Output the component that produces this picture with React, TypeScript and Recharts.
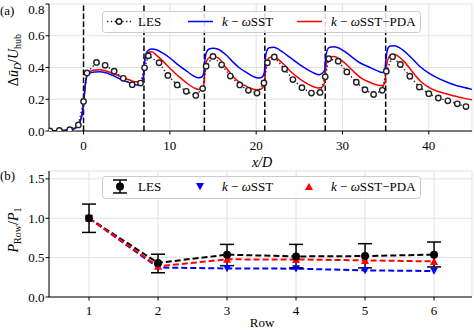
import React from 'react';
import { LineChart, Line, XAxis, YAxis, CartesianGrid, ReferenceLine, ErrorBar } from 'recharts';

const FONT = '"Liberation Serif", "Times New Roman", serif';

// ---------- (a) wake velocity deficit ----------
const lesX = [-3.9, -2.8, -1.6, -0.6, 0.0, 0.4, 1.5, 2.5, 3.55, 4.6, 5.64, 6.6, 7.07, 7.5, 8.75, 9.77, 10.85, 11.9, 13.0, 13.8, 14.2, 15.0, 16.0, 17.0, 18.1, 19.1, 20.1, 20.9, 21.3, 22.1, 23.3, 24.25, 25.3, 26.4, 27.4, 28.0, 28.4, 29.5, 30.5, 31.6, 32.6, 33.6, 34.6, 35.07, 35.8, 36.7, 37.8, 38.9, 40.0, 41.1, 42.2, 43.3, 44.3];
const lesY = [0.0, 0.003, 0.008, 0.038, 0.186, 0.366, 0.432, 0.414, 0.377, 0.332, 0.292, 0.302, 0.398, 0.474, 0.43, 0.35, 0.29, 0.25, 0.224, 0.267, 0.408, 0.47, 0.417, 0.346, 0.29, 0.256, 0.239, 0.303, 0.43, 0.466, 0.39, 0.324, 0.273, 0.239, 0.243, 0.341, 0.455, 0.44, 0.372, 0.307, 0.26, 0.23, 0.256, 0.377, 0.468, 0.419, 0.345, 0.277, 0.235, 0.208, 0.19, 0.171, 0.154];

const sstX = [-4, -3, -2, -1.2, -0.7, -0.4, -0.15, 0, 0.15, 0.3, 0.5, 0.8, 1.3, 1.9, 2.5, 3.2, 4, 4.8, 5.5, 6.1, 6.5, 6.8, 6.95, 7.05, 7.2, 7.5, 7.9, 8.5, 9.2, 10, 11, 12, 12.8, 13.3, 13.7, 13.95, 14.05, 14.2, 14.5, 15, 15.6, 16.5, 17.3, 18, 19, 19.8, 20.3, 20.7, 20.95, 21.05, 21.2, 21.5, 22, 23, 24, 25, 26, 26.8, 27.3, 27.7, 27.95, 28.05, 28.2, 28.5, 29, 30, 31, 32, 33, 34, 34.6, 34.9, 35.05, 35.2, 35.5, 36, 37, 38, 39, 40, 41, 42, 43, 44, 45];
const sstY = [0.0, 0.001, 0.004, 0.012, 0.03, 0.06, 0.11, 0.17, 0.26, 0.33, 0.355, 0.366, 0.372, 0.374, 0.368, 0.354, 0.334, 0.314, 0.3, 0.29, 0.289, 0.303, 0.34, 0.43, 0.48, 0.508, 0.516, 0.51, 0.49, 0.46, 0.415, 0.375, 0.345, 0.335, 0.34, 0.37, 0.44, 0.49, 0.515, 0.522, 0.515, 0.48, 0.435, 0.4, 0.365, 0.34, 0.334, 0.34, 0.37, 0.45, 0.5, 0.525, 0.527, 0.5, 0.46, 0.42, 0.385, 0.362, 0.355, 0.365, 0.39, 0.46, 0.505, 0.527, 0.53, 0.51, 0.47, 0.43, 0.405, 0.38, 0.368, 0.38, 0.46, 0.51, 0.535, 0.537, 0.51, 0.46, 0.405, 0.365, 0.335, 0.31, 0.29, 0.275, 0.262];

const pdaX = [-4, -3, -2, -1.2, -0.7, -0.4, -0.15, 0, 0.15, 0.3, 0.5, 0.8, 1.3, 1.9, 2.5, 3.2, 4, 4.8, 5.5, 6.1, 6.5, 6.8, 6.95, 7.05, 7.2, 7.5, 7.9, 8.5, 9.2, 10, 11, 12, 12.8, 13.3, 13.7, 13.95, 14.05, 14.2, 14.5, 15, 15.6, 16.5, 17.3, 18, 19, 19.8, 20.3, 20.7, 20.95, 21.05, 21.2, 21.5, 22, 23, 24, 25, 26, 26.8, 27.2, 27.7, 27.95, 28.05, 28.2, 28.5, 29, 30, 31, 32, 33, 34, 34.6, 34.9, 35.05, 35.2, 35.5, 36, 37, 38, 39, 40, 41, 42, 43, 44, 45];
const pdaY = [0.0, 0.001, 0.004, 0.012, 0.03, 0.06, 0.11, 0.17, 0.26, 0.33, 0.36, 0.375, 0.384, 0.386, 0.38, 0.367, 0.35, 0.332, 0.318, 0.31, 0.31, 0.32, 0.35, 0.43, 0.47, 0.495, 0.5, 0.475, 0.44, 0.395, 0.345, 0.3, 0.272, 0.262, 0.268, 0.3, 0.38, 0.43, 0.46, 0.47, 0.46, 0.4, 0.345, 0.31, 0.278, 0.262, 0.26, 0.268, 0.3, 0.38, 0.43, 0.46, 0.468, 0.43, 0.375, 0.33, 0.295, 0.275, 0.271, 0.28, 0.31, 0.39, 0.44, 0.465, 0.47, 0.44, 0.39, 0.34, 0.31, 0.29, 0.285, 0.3, 0.39, 0.44, 0.475, 0.482, 0.445, 0.38, 0.315, 0.275, 0.25, 0.235, 0.22, 0.207, 0.197];

const turbineX = [0, 7, 14, 21, 28, 35];
const topXTicks = [0, 10, 20, 30, 40];
const topYTicks = [0, 0.2, 0.4, 0.6, 0.8];

// ---------- (b) normalised row power ----------
const rows = [1, 2, 3, 4, 5, 6];
const lesPower = [1.0, 0.433, 0.538, 0.515, 0.52, 0.538];
const lesErrLow = [0.18, 0.125, 0.14, 0.145, 0.15, 0.156];
const lesErrHigh = [0.18, 0.11, 0.13, 0.153, 0.157, 0.16];
const sstPower = [1.0, 0.375, 0.362, 0.36, 0.338, 0.33];
const pdaPower = [1.0, 0.39, 0.478, 0.477, 0.465, 0.452];
const bottomXTicks = [1, 2, 3, 4, 5, 6];
const bottomYTicks = [0, 0.5, 1.0, 1.5];

const lesData = lesX.map((x, i) => ({ x, y: lesY[i] }));
const sstData = sstX.map((x, i) => ({ x, y: sstY[i] }));
const pdaData = pdaX.map((x, i) => ({ x, y: pdaY[i] }));
const bottomData = rows.map((row, i) => ({
  row,
  les: lesPower[i],
  lesErr: [lesErrLow[i], lesErrHigh[i]],
  sst: sstPower[i],
  pda: pdaPower[i],
}));

const BLUE = '#0000ff';
const RED = '#ff0000';
const GRID = '#e2e2e2';

const XTick = (p: any) => (
  <text x={p.x} y={p.y} dy="0.71em" textAnchor="middle" fontFamily={FONT} fontSize={13} fill="#000">
    {String(p.payload.value)}
  </text>
);
const YTick = (p: any) => (
  <text x={p.x} y={p.y} dy="0.355em" textAnchor="end" fontFamily={FONT} fontSize={13} fill="#000">
    {Number(p.payload.value).toFixed(1)}
  </text>
);

const hollowDot = (p: any) => (
  <circle key={`les-${p.index}`} cx={p.cx} cy={p.cy} r={2.7} fill="#fff" stroke="#222" strokeWidth={1.4} />
);
const blackDot = (p: any) => (
  <circle key={`lesb-${p.index}`} cx={p.cx} cy={p.cy} r={4} fill="#000" />
);
const triDown = (p: any) => (
  <path key={`td-${p.index}`} d={`M${p.cx - 4},${p.cy - 3.5}L${p.cx + 4},${p.cy - 3.5}L${p.cx},${p.cy + 3.8}Z`} fill={BLUE} />
);
const triUp = (p: any) => (
  <path key={`tu-${p.index}`} d={`M${p.cx - 4},${p.cy + 3.5}L${p.cx + 4},${p.cy + 3.5}L${p.cx},${p.cy - 3.8}Z`} fill={RED} />
);

const SstLabel = ({ x, y }: { x: number; y: number }) => (
  <text x={x} y={y} fontFamily={FONT} fontSize={13} fill="#000">
    <tspan fontStyle="italic">k</tspan>
    <tspan> − </tspan>
    <tspan fontStyle="italic">ω</tspan>
    <tspan>SST</tspan>
  </text>
);
const PdaLabel = ({ x, y }: { x: number; y: number }) => (
  <text x={x} y={y} fontFamily={FONT} fontSize={13} fill="#000">
    <tspan fontStyle="italic">k</tspan>
    <tspan> − </tspan>
    <tspan fontStyle="italic">ω</tspan>
    <tspan>SST−PDA</tspan>
  </text>
);

export default function App() {
  return (
    <div style={{ position: 'absolute', left: 0, top: 0, width: 474, height: 330, background: '#fff', overflow: 'hidden', fontFamily: FONT }}>
      <div style={{ position: 'absolute', left: 0, top: 0 }}>
        <LineChart width={474} height={165} margin={{ top: 4, right: 2, left: 0, bottom: 0 }} style={{ fontFamily: FONT }}>
          <CartesianGrid stroke={GRID} strokeWidth={1} />
          <XAxis
            type="number"
            dataKey="x"
            domain={[-4, 45]}
            ticks={topXTicks}
            allowDataOverflow
            height={34}
            stroke="#000"
            tickSize={3.5}
            tickMargin={6}
            tick={XTick}
          />
          <XAxis xAxisId="top" orientation="top" type="number" domain={[-4, 45]} height={0} tick={false} tickLine={false} stroke="#000" />
          <YAxis
            type="number"
            domain={[0, 0.8]}
            ticks={topYTicks}
            allowDataOverflow
            width={49}
            stroke="#000"
            tickSize={3.5}
            tickMargin={1}
            tick={YTick}
          />
          <YAxis yAxisId="right" orientation="right" width={0} tick={false} tickLine={false} stroke="#000" domain={[0, 0.8]} />
          {turbineX.map((t) => (
            <ReferenceLine key={`t-${t}`} x={t} stroke="#000" strokeWidth={1.5} strokeDasharray="5.5 2.5" />
          ))}
          <Line data={pdaData} dataKey="y" type="monotone" stroke={RED} strokeWidth={1.5} dot={false} isAnimationActive={false} />
          <Line data={sstData} dataKey="y" type="monotone" stroke={BLUE} strokeWidth={1.5} dot={false} isAnimationActive={false} />
          <Line data={lesData} dataKey="y" type="linear" stroke="#222" strokeWidth={1.4} strokeDasharray="1.4 2.4" dot={hollowDot} isAnimationActive={false} />
        </LineChart>
      </div>
      <div style={{ position: 'absolute', left: 0, top: 165 }}>
        <LineChart width={474} height={165} data={bottomData} margin={{ top: 6, right: 2, left: 0, bottom: 0 }} style={{ fontFamily: FONT }}>
          <CartesianGrid stroke={GRID} strokeWidth={1} />
          <XAxis
            type="number"
            dataKey="row"
            domain={[0.42, 6.55]}
            ticks={bottomXTicks}
            allowDataOverflow
            height={33}
            stroke="#000"
            tickSize={3.5}
            tickMargin={5}
            tick={XTick}
          />
          <XAxis xAxisId="top" orientation="top" type="number" dataKey="row" domain={[0.42, 6.55]} height={0} tick={false} tickLine={false} stroke="#000" />
          <YAxis
            type="number"
            domain={[0, 1.6]}
            ticks={bottomYTicks}
            allowDataOverflow
            width={49}
            stroke="#000"
            tickSize={3.5}
            tickMargin={1}
            tick={YTick}
          />
          <YAxis yAxisId="right" orientation="right" width={0} tick={false} tickLine={false} stroke="#000" domain={[0, 1.6]} />
          <Line dataKey="les" type="linear" stroke="#000" strokeWidth={2} strokeDasharray="6 3" dot={false} isAnimationActive={false} />
          <Line dataKey="sst" type="linear" stroke={BLUE} strokeWidth={2} strokeDasharray="6 3" dot={triDown} isAnimationActive={false} />
          <Line dataKey="pda" type="linear" stroke={RED} strokeWidth={2} strokeDasharray="6 3" dot={triUp} isAnimationActive={false} />
          <Line dataKey="les" type="linear" stroke="none" dot={blackDot} isAnimationActive={false}>
            <ErrorBar dataKey="lesErr" direction="y" width={7} stroke="#000" strokeWidth={1.5} />
          </Line>
        </LineChart>
      </div>
      <svg width={474} height={330} style={{ position: 'absolute', left: 0, top: 0, pointerEvents: 'none' }}>
        {/* panel labels */}
        <text x={0} y={15} fontFamily={FONT} fontSize={13} fill="#000">(a)</text>
        <text x={0} y={180} fontFamily={FONT} fontSize={13} fill="#000">(b)</text>
        {/* axis titles */}
        <text x={262} y={167} textAnchor="middle" fontFamily={FONT} fontSize={14} fill="#000" fontStyle="italic">x/D</text>
        <text x={262} y={326.5} textAnchor="middle" fontFamily={FONT} fontSize={13} fill="#000">Row</text>
        <text transform="translate(18,60) rotate(-90)" textAnchor="middle" fontFamily={FONT} fontSize={14} fill="#000">
          <tspan>Δ</tspan>
          <tspan fontStyle="italic">ū</tspan>
          <tspan fontStyle="italic" fontSize={10} dy={3}>D</tspan>
          <tspan dy={-3}>/</tspan>
          <tspan fontStyle="italic">U</tspan>
          <tspan fontSize={10} dy={3}>hub</tspan>
        </text>
        <text transform="translate(18,230) rotate(-90)" textAnchor="middle" fontFamily={FONT} fontSize={14} fill="#000">
          <tspan fontStyle="italic">P</tspan>
          <tspan fontSize={10} dy={3}>Row</tspan>
          <tspan dy={-3}>/</tspan>
          <tspan fontStyle="italic">P</tspan>
          <tspan fontSize={10} dy={3}>1</tspan>
        </text>
        {/* legend (a) */}
        <rect x={102.5} y={11.5} width={318} height={21} rx={3} fill="#fff" fillOpacity={0.85} stroke="#cccccc" />
        <line x1={107} y1={21.5} x2={131} y2={21.5} stroke="#222" strokeWidth={1.4} strokeDasharray="1.4 2.4" />
        <circle cx={119} cy={21.5} r={2.7} fill="#fff" stroke="#222" strokeWidth={1.4} />
        <text x={138} y={26} fontFamily={FONT} fontSize={13} fill="#000">LES</text>
        <line x1={188} y1={21.5} x2={213} y2={21.5} stroke={BLUE} strokeWidth={1.5} />
        <SstLabel x={222} y={26} />
        <line x1={297} y1={21.5} x2={322} y2={21.5} stroke={RED} strokeWidth={1.5} />
        <PdaLabel x={331} y={26} />
        {/* legend (b) */}
        <rect x={102.5} y={176.5} width={318} height={22} rx={3} fill="#fff" fillOpacity={0.85} stroke="#cccccc" />
        <line x1={120} y1={180} x2={120} y2={193} stroke="#000" strokeWidth={1.5} />
        <line x1={113} y1={180} x2={127} y2={180} stroke="#000" strokeWidth={1.5} />
        <line x1={113} y1={193} x2={127} y2={193} stroke="#000" strokeWidth={1.5} />
        <circle cx={120} cy={186.5} r={4} fill="#000" />
        <text x={138} y={191} fontFamily={FONT} fontSize={13} fill="#000">LES</text>
        <path d="M196,183L204,183L200,190.3Z" fill={BLUE} />
        <SstLabel x={222} y={191} />
        <path d="M305,190L313,190L309,182.7Z" fill={RED} />
        <PdaLabel x={331} y={191} />
      </svg>
    </div>
  );
}
